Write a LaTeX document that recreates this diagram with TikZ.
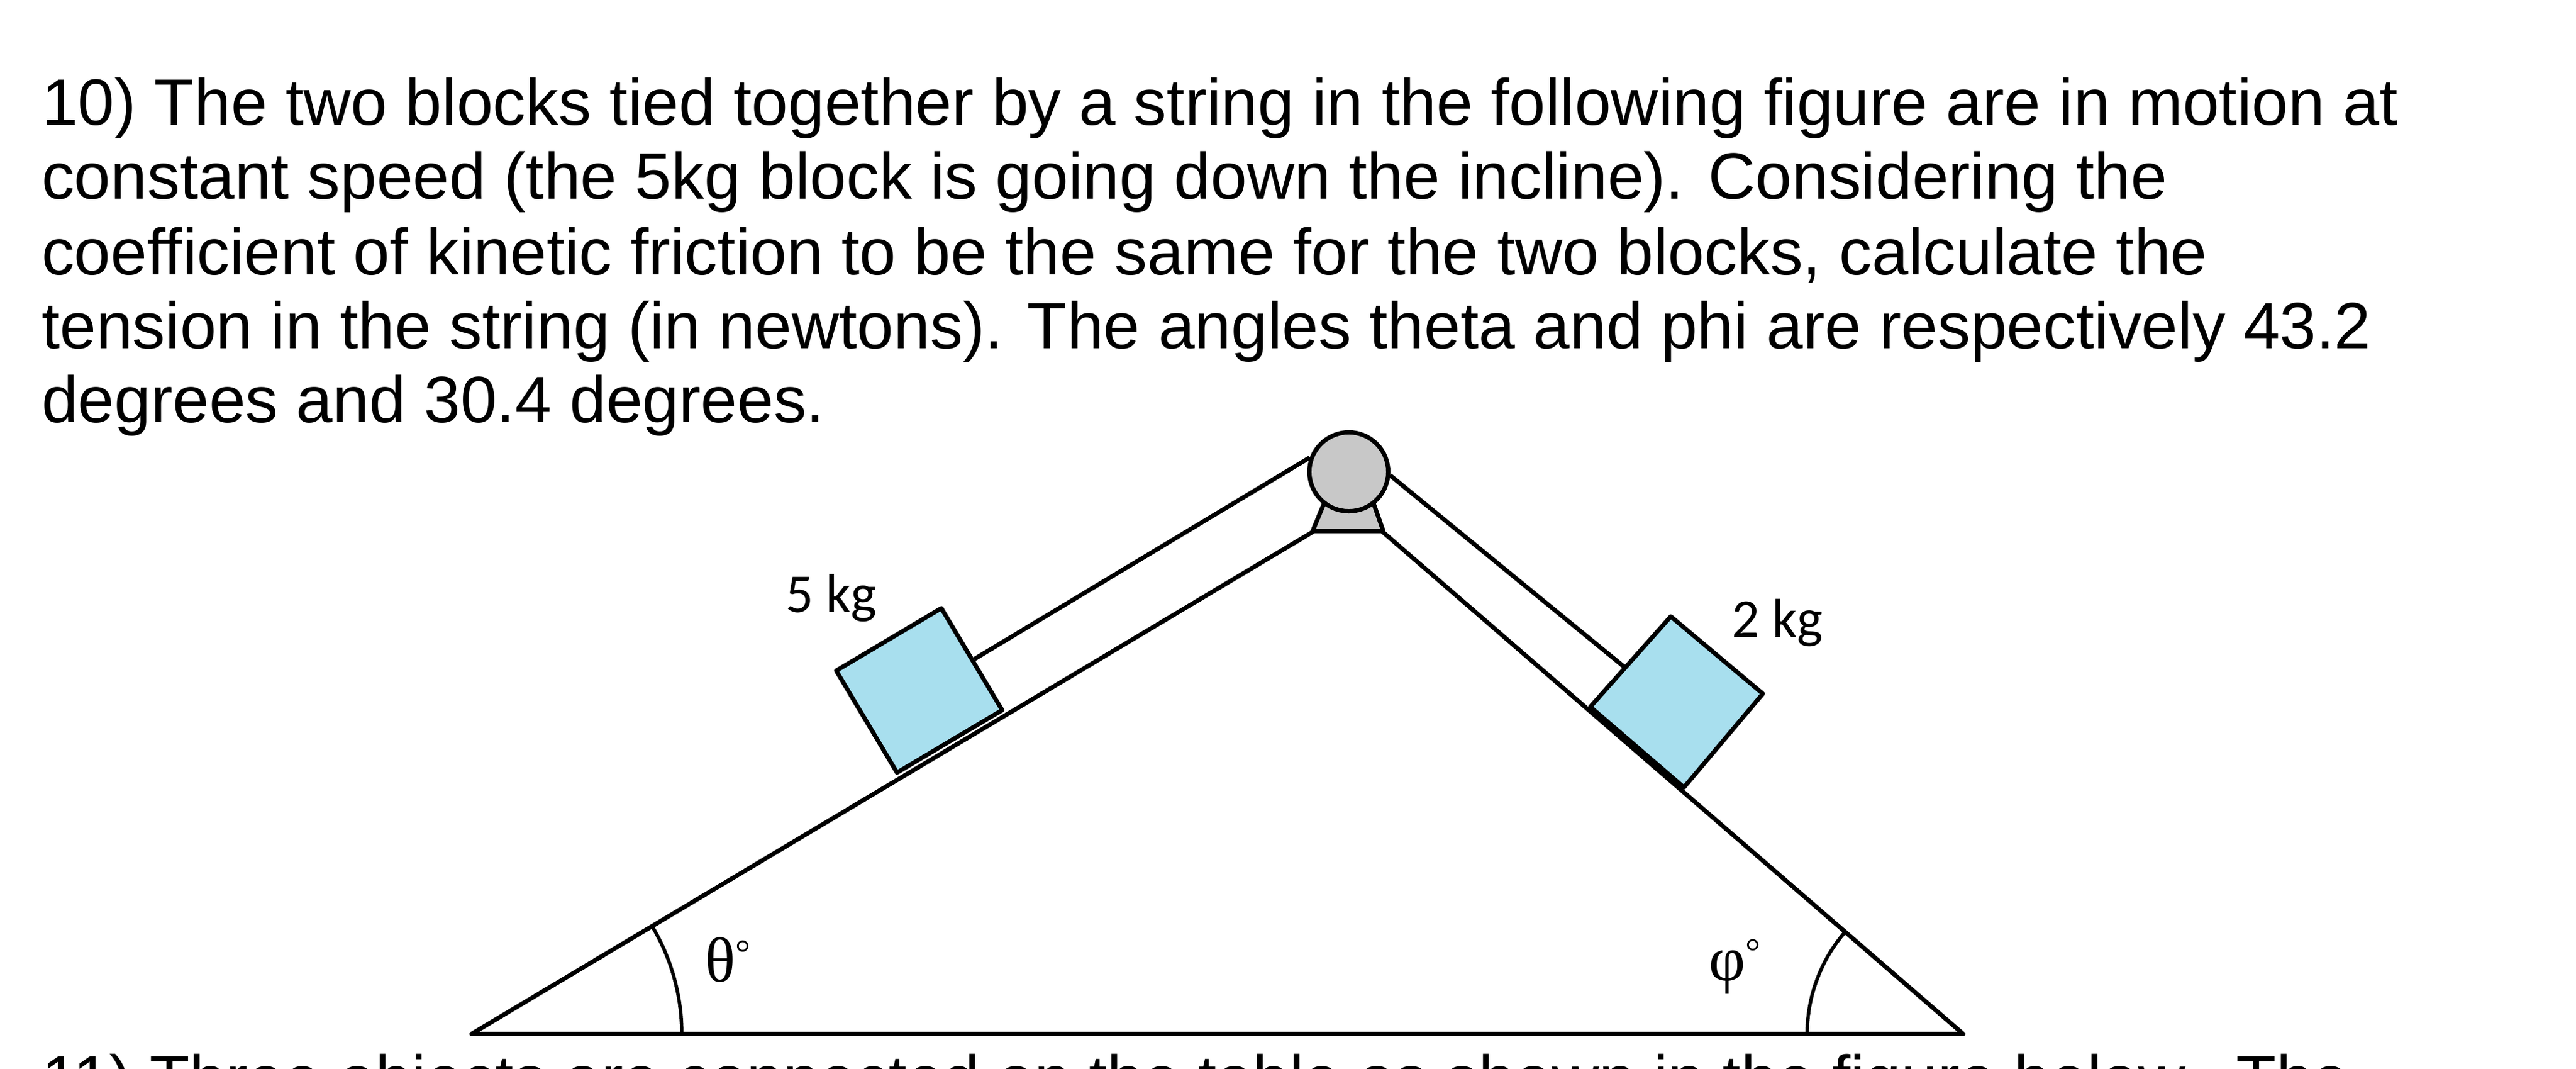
\documentclass[tikz,border=0pt]{standalone}
\usepackage{fontspec}
\setmainfont{Liberation Sans}
\newfontfamily\lblfont{Carlito}
\newfontfamily\grkfont{Liberation Serif}
\begin{document}
\begin{tikzpicture}[x=0.02cm,y=-0.02cm,
  body/.style={anchor=base west,inner sep=0pt,font=\fontsize{22.7}{27}\selectfont},
  line/.style={line width=1.5pt,line join=round},
  blockbox/.style={line,fill=blockblue},
  lbl/.style={inner sep=0pt,font=\lblfont\fontsize{19}{22}\selectfont},
  grk/.style={inner sep=0pt,font=\grkfont\fontsize{22}{24}\selectfont}]
\definecolor{blockblue}{RGB}{168,223,238}
\definecolor{pulleygray}{RGB}{200,200,200}
\useasboundingbox (0,0) rectangle (1568,650);
\clip (0,0) rectangle (1568,650);
\node[body] (l1) at (25,76) {10) The two blocks tied together by a string in the following figure are in motion at};
\node[body] (l2) at (25,121) {constant speed (the 5kg block is going down the incline). Considering the};
\node[body] (l3) at (25,167) {coefficient of kinetic friction to be the same for the two blocks, calculate the};
\node[body] (l4) at (25,212) {tension in the string (in newtons). The angles theta and phi are respectively 43.2};
\node[body] (l5) at (25,257) {degrees and 30.4 degrees.};
\node[body] (l6) at (25,670) {11) Three objects are connected on the table as shown in the figure below.\ \ The};
% incline
\coordinate (A) at (287,629);
\coordinate (B) at (1195,629);
\coordinate (PL) at (800,323);
\coordinate (PR) at (841,323);
\draw[line] (PL) -- (A) -- (B) -- (PR);
% pulley mount
\draw[line,fill=pulleygray] (806,306) -- (836,306) -- (842,323) -- (799,323) -- cycle;
\node[circle,draw,line width=1.5pt,fill=pulleygray,inner sep=0pt,minimum size=0.96cm] (pul) at (821,287) {};
% strings
\coordinate (SL) at (593,401);
\coordinate (SR) at (989,406);
\draw[line] (SL) -- (pul.160);
\draw[line] (SR) -- (pul.-5);
% blocks
\draw[blockbox] (509,408) -- (573,370) -- (610,432) -- (546,470) -- cycle;
\draw[blockbox] (968,430) -- (1017,375) -- (1073,422) -- (1025,479) -- cycle;
\node[lbl] (m5) at (506,364) {5 kg};
\node[lbl] (m2) at (1082,379) {2 kg};
% angles
\draw[line width=1.2pt] (415,629) arc[start angle=0,end angle=-30.8,radius=128];
\draw[line width=1.2pt] (1100,629) arc[start angle=180,end angle=220.8,radius=95];
\node[grk] (th) at (443,584) {θ\raisebox{0.55ex}{\fontsize{13}{14}\selectfont °}};
\node[grk] (ph) at (1056,588) {φ\raisebox{0.55ex}{\fontsize{13}{14}\selectfont °}};
\end{tikzpicture}
\end{document}
